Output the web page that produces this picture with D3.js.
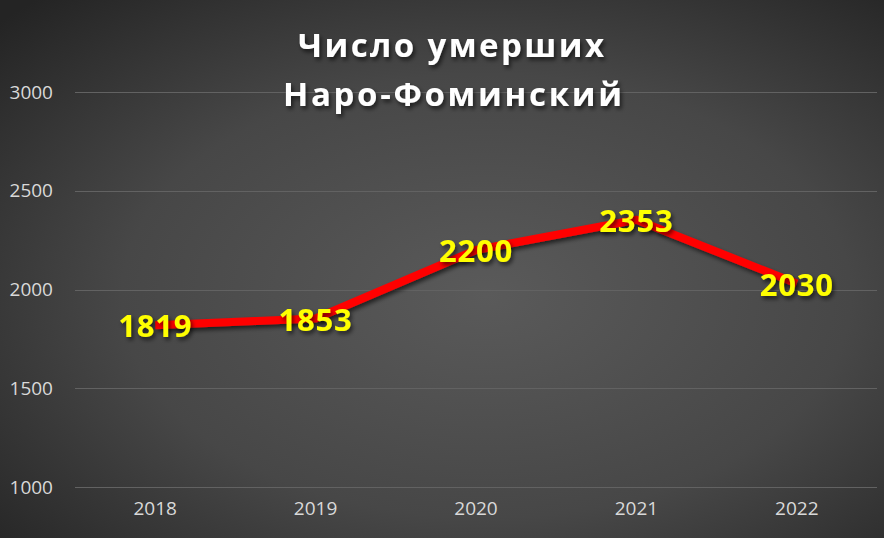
<!DOCTYPE html>
<html>
<head>
<meta charset="utf-8">
<script src="https://cdn.jsdelivr.net/npm/d3@7"></script>
<style>
  html, body { margin: 0; padding: 0; background: #333; }
  svg { display: block; }
</style>
</head>
<body>
<div id="chart"></div>
<script>
// Chart data
const years = ['2018', '2019', '2020', '2021', '2022'];
const deaths = [1819, 1853, 2200, 2353, 2030];
const yTicks = [1000, 1500, 2000, 2500, 3000];
const titleLines = ['Число умерших', 'Наро-Фоминский'];

const W = 884, H = 538;
const plot = { left: 75, right: 877, top: 92, bottom: 487 };

const svg = d3.select('#chart').append('svg')
  .attr('width', W)
  .attr('height', H);

const defs = svg.append('defs');

// dark radial background
const grad = defs.append('radialGradient')
  .attr('id', 'bg')
  .attr('cx', '55%').attr('cy', '55%').attr('r', '75%');
grad.append('stop').attr('offset', '0%').attr('stop-color', '#5a5a5a');
grad.append('stop').attr('offset', '55%').attr('stop-color', '#474747');
grad.append('stop').attr('offset', '100%').attr('stop-color', '#242424');

// soft shadow for line and texts
const shadow = defs.append('filter')
  .attr('id', 'shadow')
  .attr('x', '-20%').attr('y', '-20%')
  .attr('width', '140%').attr('height', '160%');
shadow.append('feDropShadow')
  .attr('dx', 2).attr('dy', 3)
  .attr('stdDeviation', 2)
  .attr('flood-color', '#000')
  .attr('flood-opacity', 0.6);

svg.append('rect')
  .attr('width', W).attr('height', H)
  .attr('fill', 'url(#bg)');

// Scales
const x = d3.scaleBand()
  .domain(years)
  .range([plot.left, plot.right]);

const y = d3.scaleLinear()
  .domain([1000, 3000])
  .range([plot.bottom, plot.top]);

// Gridlines
svg.append('g')
  .selectAll('line')
  .data(yTicks)
  .enter().append('line')
  .attr('x1', plot.left)
  .attr('x2', plot.right)
  .attr('y1', d => Math.round(y(d)) + 0.5)
  .attr('y2', d => Math.round(y(d)) + 0.5)
  .attr('stroke', '#626262')
  .attr('stroke-width', 1.2);

// Y axis labels
const yAxis = svg.append('g')
  .attr('transform', `translate(${plot.left - 22},0)`)
  .call(d3.axisLeft(y).tickValues(yTicks).tickSize(0).tickPadding(0).tickFormat(d3.format('d')));
yAxis.select('.domain').remove();
yAxis.selectAll('text')
  .attr('fill', '#d9d9d9')
  .style('font-family', '"Open Sans", sans-serif')
  .style('font-size', '19px');

// X axis labels
const xAxis = svg.append('g')
  .attr('transform', `translate(0,${plot.bottom + 14})`)
  .call(d3.axisBottom(x).tickSize(0).tickPadding(0));
xAxis.select('.domain').remove();
xAxis.selectAll('text')
  .attr('fill', '#d9d9d9')
  .style('font-family', '"Open Sans", sans-serif')
  .style('font-size', '19px');

// Line
const line = d3.line()
  .x((d, i) => x(years[i]) + x.bandwidth() / 2)
  .y(d => y(d));

svg.append('path')
  .datum(deaths)
  .attr('d', line)
  .attr('fill', 'none')
  .attr('stroke', '#ff0000')
  .attr('stroke-width', 8)
  .attr('stroke-linejoin', 'round')
  .attr('filter', 'url(#shadow)');

// Data labels
svg.append('g')
  .selectAll('text')
  .data(deaths)
  .enter().append('text')
  .attr('x', (d, i) => x(years[i]) + x.bandwidth() / 2)
  .attr('y', d => y(d) + 12)
  .attr('text-anchor', 'middle')
  .attr('fill', '#ffff00')
  .attr('filter', 'url(#shadow)')
  .style('font-family', '"Open Sans", sans-serif')
  .style('font-weight', 'bold')
  .style('font-size', '31px')
  .style('letter-spacing', '0.8px')
  .text(d => d);

// Title
const titleWidths = [306, 339];
svg.append('g')
  .selectAll('text')
  .data(titleLines)
  .enter().append('text')
  .attr('x', (d, i) => i === 0 ? 451 : 452.5)
  .attr('y', (d, i) => 57 + i * 49)
  .attr('text-anchor', 'middle')
  .attr('textLength', (d, i) => titleWidths[i])
  .attr('lengthAdjust', 'spacing')
  .attr('fill', '#ffffff')
  .attr('filter', 'url(#shadow)')
  .style('font-family', '"Open Sans", sans-serif')
  .style('font-weight', 'bold')
  .style('font-size', '33px')
  .text(d => d);
</script>
</body>
</html>
